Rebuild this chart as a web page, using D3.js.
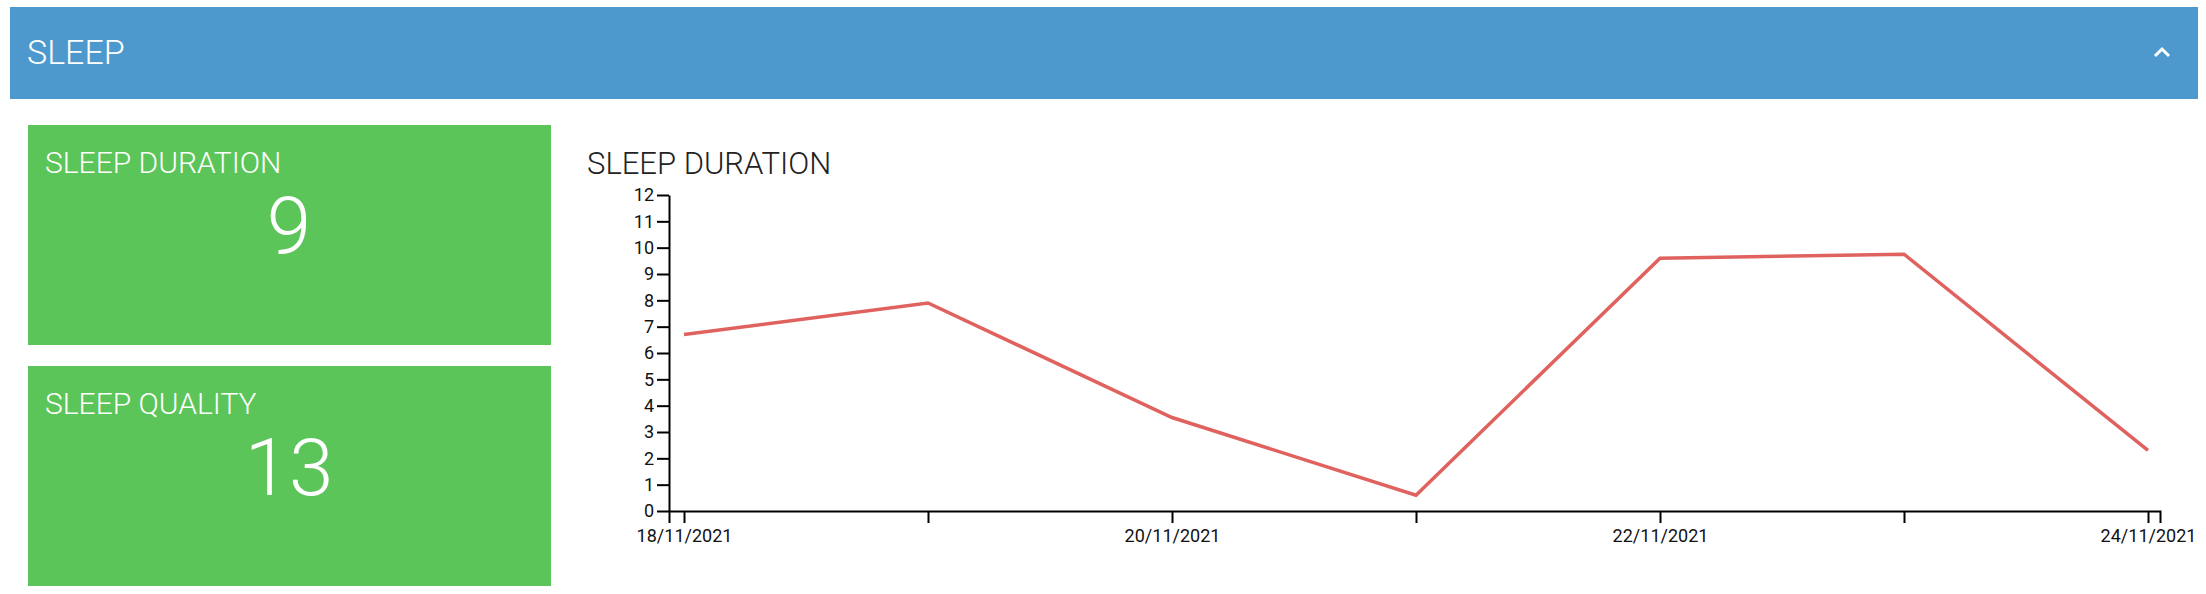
<!DOCTYPE html>
<html>
<head>
<meta charset="utf-8">
<script src="https://cdn.jsdelivr.net/npm/d3@7"></script>
<style>
  body { margin: 0; background: #fff; font-family: Roboto, sans-serif; }
</style>
</head>
<body>
<svg id="chart" width="2206" height="594"></svg>
<script>
// data
const dates = ["2021-11-18", "2021-11-19", "2021-11-20", "2021-11-21", "2021-11-22", "2021-11-23", "2021-11-24"];
const durations = [6.7, 7.9, 3.55, 0.6, 9.6, 9.75, 2.3];
const cardTitles = ["SLEEP DURATION", "SLEEP QUALITY"];
const cardValues = ["9", "13"];

const svg = d3.select("#chart");
const parse = d3.timeParse("%Y-%m-%d");
const points = dates.map((d, i) => ({ date: parse(d), value: durations[i] }));

// header bar
svg.append("rect").attr("x", 10).attr("y", 7).attr("width", 2188).attr("height", 92).attr("fill", "#4d99cd");
svg.append("text").attr("x", 27).attr("y", 64).attr("fill", "#fff")
  .attr("font-size", 34).attr("font-weight", 300).text("SLEEP");
svg.append("path").attr("d", "M2155,56 L2162,49 L2169,56")
  .attr("fill", "none").attr("stroke", "#fff").attr("stroke-width", 3);

// cards
cardTitles.forEach((t, i) => {
  const y0 = 125 + i * 241;
  svg.append("rect").attr("x", 28).attr("y", y0).attr("width", 523).attr("height", 220).attr("fill", "#5cc55a");
  svg.append("text").attr("x", 45).attr("y", y0 + 48).attr("fill", "#fff")
    .attr("font-size", 30).attr("font-weight", 300).text(t);
  svg.append("text").attr("x", 289).attr("y", y0 + 129).attr("fill", "#fff")
    .attr("text-anchor", "middle").attr("font-size", 80).attr("font-weight", 300).text(cardValues[i]);
});

// chart
svg.append("text").attr("x", 587).attr("y", 174).attr("fill", "#222")
  .attr("font-size", 31).attr("font-weight", 300).text("SLEEP DURATION");

const day = 864e5;
const first = points[0].date, last = points[points.length - 1].date;
const x = d3.scaleTime()
  .domain([new Date(+first - day * 15 / 244), new Date(+last + day * 12 / 244)])
  .range([669, 2160]);
const y = d3.scaleLinear().domain([0, 12]).range([511, 195]);

const xAxis = svg.append("g").attr("transform", "translate(0,511)")
  .call(d3.axisBottom(x).tickValues(points.map(p => p.date)).tickSize(12).tickSizeOuter(12)
    .tickFormat((d, i) => i % 2 === 0 ? d3.timeFormat("%d/%m/%Y")(d) : ""));
xAxis.selectAll("text").attr("font-size", 18).attr("font-family", "Roboto").attr("fill", "#111").attr("dy", "0.9em");

const yAxis = svg.append("g").attr("transform", "translate(669,0)")
  .call(d3.axisLeft(y).ticks(12).tickSize(12).tickSizeOuter(0));
yAxis.selectAll("text").attr("font-size", 18).attr("font-family", "Roboto").attr("fill", "#111");
svg.selectAll(".domain, .tick line").attr("stroke", "#000").attr("stroke-width", 2);

svg.append("path").datum(points)
  .attr("fill", "none").attr("stroke", "#e0625f").attr("stroke-width", 3.5)
  .attr("d", d3.line().x(d => x(d.date)).y(d => y(d.value)));
</script>
</body>
</html>
